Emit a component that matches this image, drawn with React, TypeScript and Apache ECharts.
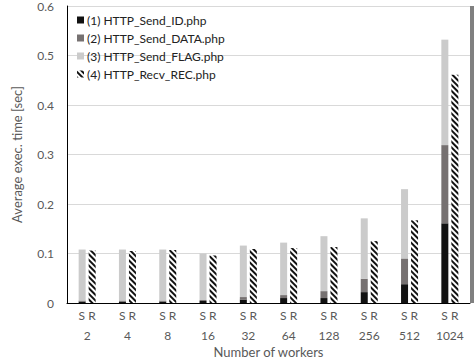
import React, { useEffect, useRef } from "react";
import * as echarts from "echarts";

const categories = ["2", "4", "8", "16", "32", "64", "128", "256", "512", "1024"];
const sendId = [0.003, 0.003, 0.003, 0.004, 0.007, 0.010, 0.010, 0.022, 0.038, 0.161];
const sendData = [0.002, 0.002, 0.002, 0.002, 0.005, 0.006, 0.014, 0.027, 0.052, 0.158];
const sendFlag = [0.103, 0.103, 0.103, 0.094, 0.104, 0.106, 0.111, 0.122, 0.140, 0.213];
const recvRec = [0.106, 0.105, 0.107, 0.096, 0.109, 0.111, 0.113, 0.125, 0.167, 0.461];
const seriesNames = [
  "(1) HTTP_Send_ID.php",
  "(2) HTTP_Send_DATA.php",
  "(3) HTTP_Send_FLAG.php",
  "(4) HTTP_Recv_REC.php",
];

const FONT = "Lato, 'Open Sans', sans-serif";
const GRAY = "#595959";

export default function App() {
  const ref = useRef<HTMLDivElement>(null);
  useEffect(() => {
    if (!ref.current) return;
    const chart = echarts.init(ref.current, null, { renderer: "svg" });
    const barW = 7;
    chart.setOption({
      animation: false,
      textStyle: { fontFamily: FONT },
      grid: { left: 67, right: 4, top: 6, bottom: 59, containLabel: false, outerBoundsMode: "none" },
      legend: {
        orient: "vertical",
        left: 72,
        top: 9,
        icon: "rect",
        itemWidth: 7,
        itemHeight: 7,
        itemGap: 6,
        textStyle: { fontFamily: FONT, fontSize: 12, color: "#222", padding: [0, 0, 0, -2] },
        data: seriesNames,
      },
      xAxis: {
        type: "category",
        data: categories,
        axisLine: { lineStyle: { color: "#000", width: 1 } },
        axisTick: { show: false },
        name: "Number of workers",
        nameLocation: "middle",
        nameGap: 41,
        nameTextStyle: { fontFamily: FONT, fontSize: 13, color: GRAY },
        axisLabel: {
          margin: 2,
          interval: 0,
          formatter: (v: string) => `{sr|S R}\n{cat|${v}}`,
          rich: {
            sr: { fontFamily: FONT, fontSize: 12, color: GRAY, lineHeight: 20 },
            cat: { fontFamily: FONT, fontSize: 12, color: GRAY, lineHeight: 20 },
          },
        },
      },
      yAxis: {
        type: "value",
        min: 0,
        max: 0.6,
        interval: 0.1,
        name: "Average exec. time [sec]",
        nameLocation: "middle",
        nameGap: 44,
        nameTextStyle: { fontFamily: FONT, fontSize: 13, color: GRAY },
        axisLine: { show: true, lineStyle: { color: "#000", width: 1 } },
        axisTick: { show: false },
        splitLine: { lineStyle: { color: "#d9d9d9" } },
        axisLabel: {
          margin: 13,
          fontFamily: FONT,
          fontSize: 12,
          color: GRAY,
          formatter: (v: number) => (v === 0 ? "0" : String(Math.round(v * 10) / 10)),
        },
      },
      graphic: [
        { type: "line", shape: { x1: 67, y1: 6.5, x2: 470, y2: 6.5 }, style: { stroke: "#595959", lineWidth: 1 } },
        { type: "rect", shape: { x: 470, y: 6, width: 4, height: 297 }, style: { fill: "#808080" } },
      ],
      series: [
        {
          name: seriesNames[0],
          type: "bar",
          stack: "S",
          barWidth: barW,
          data: sendId,
          itemStyle: { color: "#111111" },
        },
        {
          name: seriesNames[1],
          type: "bar",
          stack: "S",
          barWidth: barW,
          data: sendData,
          itemStyle: { color: "#767171" },
        },
        {
          name: seriesNames[2],
          type: "bar",
          stack: "S",
          barWidth: barW,
          data: sendFlag,
          itemStyle: { color: "#cbcbcb" },
        },
        {
          name: seriesNames[3],
          type: "bar",
          stack: "R",
          barWidth: barW,
          barGap: "43%",
          data: recvRec,
          itemStyle: {
            color: "#ffffff",
            decal: {
              symbol: "rect",
              color: "#111111",
              backgroundColor: "#ffffff",
              dashArrayX: [1, 0],
              dashArrayY: [1.5, 1.5],
              rotation: Math.PI / 4,
            },
          },
        },
      ],
    });
    return () => chart.dispose();
  }, []);
  return <div ref={ref} style={{ width: 474, height: 362, position: "absolute", left: 0, top: 0 }} />;
}
